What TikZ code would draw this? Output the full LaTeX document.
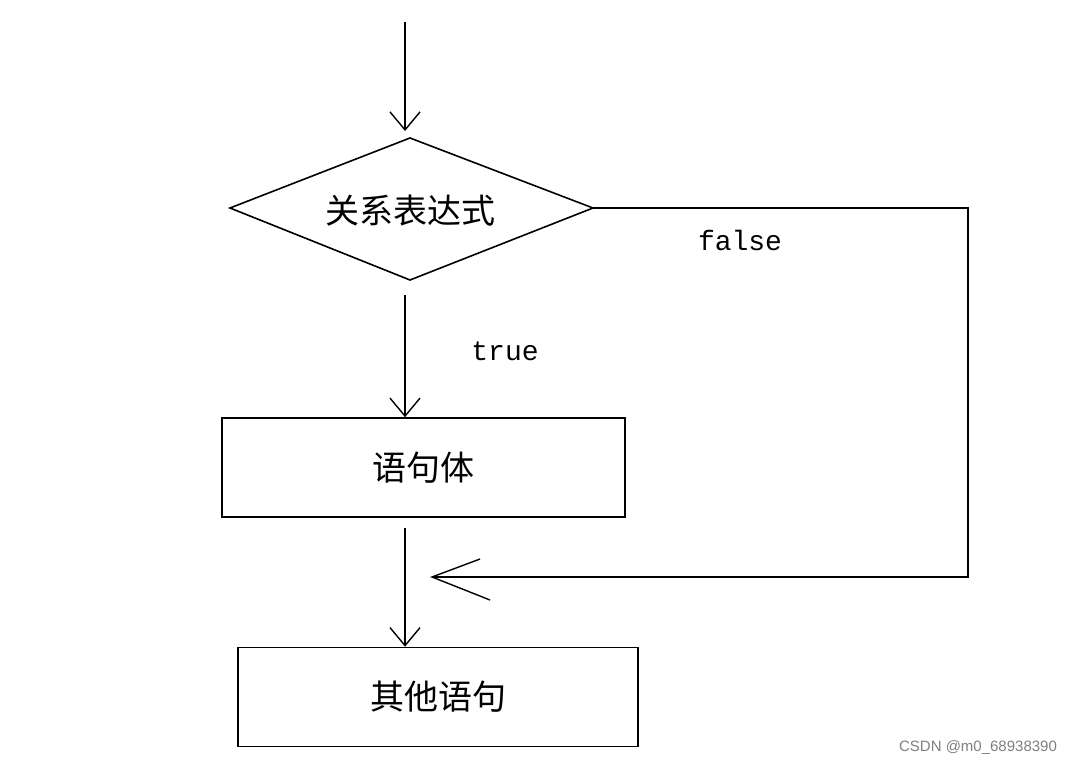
\documentclass[tikz,border=0pt]{standalone}
\usepackage{fontspec}
\newfontfamily\cjk{Noto Sans CJK SC}
\setmonofont{Liberation Mono}
\setsansfont{Liberation Sans}
\usetikzlibrary{arrows.meta}
\begin{document}
\begin{tikzpicture}[x=1pt,y=-1pt,
  line/.style={draw=black,line width=1.6pt},
  arr/.style={line,-{Straight Barb[length=18pt,width=30pt,line width=1.4pt]}},
  box/.style={line,minimum width=403pt,minimum height=99pt,inner sep=0pt,font=\cjk\fontsize{34}{40}\selectfont},
  lbl/.style={font=\ttfamily\fontsize{28}{32}\selectfont}]
\useasboundingbox (0,0) rectangle (1081,767);
\fill[white] (0,0) rectangle (1081,767);
\coordinate (top) at (405,22);
\coordinate (L) at (230,208);
\coordinate (R) at (593,208);
\coordinate (T) at (410,138);
\coordinate (B) at (410,280);
\draw[line] (L)--(T)--(R)--(B)--cycle;
\node[font=\cjk\fontsize{34}{40}\selectfont] (dtxt) at (410,211) {关系表达式};
\draw[arr] (top) -- (405,131);
\node[box] (body) at (423.5,467.5) {语句体};
\node[box,minimum width=400pt] (other) at (438,697) {其他语句};
\draw[arr] (405,295) -- (body.north -| 405,0);
\draw[arr] (405,528) -- (other.north -| 405,0);
\coordinate (c1) at (968,208);
\coordinate (c2) at (968,577);
\coordinate (j) at (432,577);
\draw[line] (R) -- (c1) -- (c2) -- (j);
\draw[line,line width=1.4pt] (480,559) -- (j) -- (490,600);
\node[lbl] (f) at (740,240) {false};
\node[lbl] (t) at (505,351) {true};
\node[font=\sffamily\fontsize{15}{18}\selectfont,text=gray] (wm) at (978,748) {CSDN @m0\_68938390};
\end{tikzpicture}
\end{document}
